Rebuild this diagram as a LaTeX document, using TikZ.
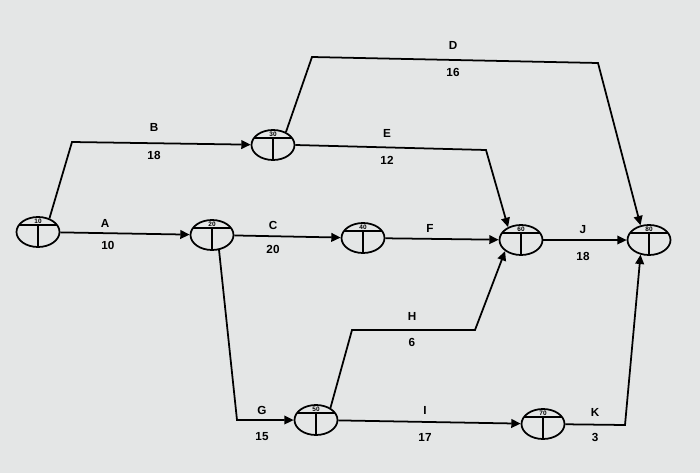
\documentclass[tikz,border=0pt]{standalone}
\usepackage{fontspec}
\setmainfont{Liberation Sans}
\usetikzlibrary{shapes.geometric, arrows.meta}
\definecolor{paper}{RGB}{228,230,230}

\begin{document}
\begin{tikzpicture}[x=0.03cm, y=-0.03cm, line width=1.5pt]
    % Define styles
    \tikzstyle{event} = [ellipse, draw, minimum width=1.29cm, minimum height=0.9cm, inner sep=0pt,
        path picture={
            \draw ([yshift=-0.24cm]path picture bounding box.north west) -- ([yshift=-0.24cm]path picture bounding box.north east);
            \draw ([yshift=-0.24cm]path picture bounding box.north) -- (path picture bounding box.south);
        }]
    \tikzstyle{num} = [font=\fontsize{5.5}{6}\selectfont\bfseries, inner sep=0pt, yshift=0.33cm]
    \tikzstyle{lbl} = [font=\fontsize{10}{12}\selectfont\bfseries, inner sep=1pt]
    \tikzstyle{flow} = [-{Triangle[length=0.28cm, width=0.26cm]}]

    % Background
    \fill[paper] (0,0) rectangle (700,473);
    \useasboundingbox (0,0) rectangle (700,473);

    % Place event nodes
    \node [event, label={[num]center:10}] (n10) at (38,232) {};
    \node [event, label={[num]center:20}] (n20) at (212,235) {};
    \node [event, label={[num]center:30}] (n30) at (273,145) {};
    \node [event, label={[num]center:40}] (n40) at (363,238) {};
    \node [event, label={[num]center:50}] (n50) at (316,420) {};
    \node [event, label={[num]center:60}] (n60) at (521,240) {};
    \node [event, label={[num]center:70}] (n70) at (543,424) {};
    \node [event, label={[num]center:80}] (n80) at (649,240) {};

    % Bend points
    \coordinate (b1) at (72,142);
    \coordinate (d1) at (312,57);
    \coordinate (d2) at (598,63);
    \coordinate (e1) at (486,150);
    \coordinate (g1) at (237,420);
    \coordinate (h1) at (352,330);
    \coordinate (h2) at (475,330);
    \coordinate (k1) at (625,425);

    % Draw activities
    \draw [flow] (n10) -- (n20);
    \draw [flow] (n10.50) -- (b1) -- (n30);
    \draw [flow] (n30.45) -- (d1) -- (d2) -- (n80.120);
    \draw [flow] (n30.east) -- (e1) -- (n60.135);
    \draw [flow] (n20) -- (n40);
    \draw [flow] (n40) -- (n60);
    \draw [flow] (n20.295) -- (g1) -- (n50);
    \draw [flow] (n50.40) -- (h1) -- (h2) -- (n60.215);
    \draw [flow] (n50) -- (n70);
    \draw [flow] (n60) -- (n80);
    \draw [flow] (n70) -- (k1) -- (n80.240);

    % Add text on the arrows
    \node [lbl] (la) at (105,223) {A};  \node [lbl] (ta) at (108,245) {10};
    \node [lbl] (lb) at (154,127) {B};  \node [lbl] (tb) at (154,155) {18};
    \node [lbl] (lc) at (273,225) {C};  \node [lbl] (tc) at (273,249) {20};
    \node [lbl] (ld) at (453,45) {D};   \node [lbl] (td) at (453,72) {16};
    \node [lbl] (le) at (387,133) {E};  \node [lbl] (te) at (387,160) {12};
    \node [lbl] (lf) at (430,228) {F};
    \node [lbl] (lg) at (262,410) {G};  \node [lbl] (tg) at (262,437) {15};
    \node [lbl] (lh) at (412,316) {H};  \node [lbl] (th) at (412,342) {6};
    \node [lbl] (li) at (425,410) {I};  \node [lbl] (ti) at (425,437) {17};
    \node [lbl] (lj) at (583,230) {J};  \node [lbl] (tj) at (583,256) {18};
    \node [lbl] (lk) at (595,412) {K};  \node [lbl] (tk) at (595,437) {3};

\end{tikzpicture}
\end{document}
